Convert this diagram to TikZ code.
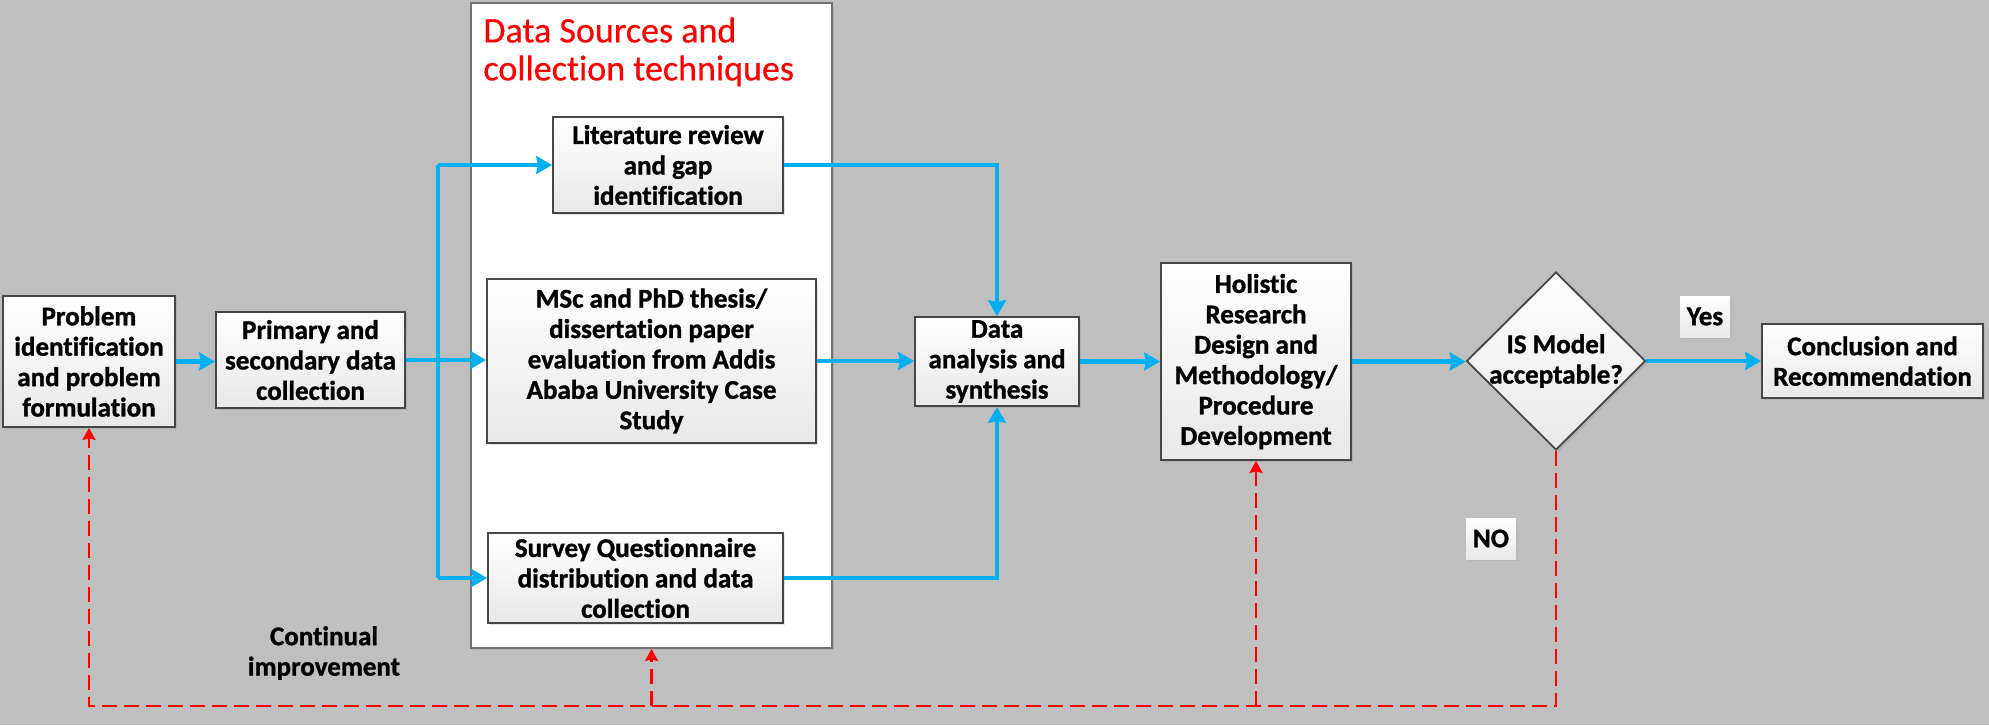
\documentclass[tikz,border=0pt]{standalone}
\usepackage{fontspec}
\setmainfont{Carlito}[Ligatures={NoCommon},BoldFeatures={FakeBold=1.2}]
\newfontfamily\titlefont{Carlito}[Ligatures={NoCommon},FakeBold=0.5]
\usetikzlibrary{arrows.meta,shapes.geometric,shadows}
\definecolor{bg}{RGB}{191,191,191}
\definecolor{flowblue}{RGB}{0,176,240}
\definecolor{boxedge}{RGB}{70,70,70}
\definecolor{boxbot}{RGB}{232,232,232}
\definecolor{contedge}{RGB}{115,115,115}
\begin{document}
\begin{tikzpicture}[x=0.5pt,y=-0.5pt,
  flowbox/.style={draw=boxedge, line width=0.9pt, top color=white, bottom color=boxbot,
    align=center, inner sep=0pt, font=\bfseries\fontsize{13.5}{15.2}\selectfont,
    drop shadow={shadow xshift=1.2pt,shadow yshift=-1.2pt,opacity=0.22}},
  tagbox/.style={top color=white, bottom color=boxbot, inner sep=0pt,
    font=\bfseries\fontsize{13.5}{15.2}\selectfont,
    drop shadow={shadow xshift=1pt,shadow yshift=-1pt,opacity=0.15}},
  plaintext/.style={align=center, inner sep=0pt, font=\bfseries\fontsize{13.5}{15.2}\selectfont},
  bluearrow/.style={draw=flowblue, line width=2.2pt, -{Stealth[length=8pt,width=9pt,inset=1pt]}},
  redline/.style={draw=red, line width=1.2pt, dash pattern=on 7.5pt off 3.5pt},
  redarrow/.style={redline, -{Stealth[length=6pt,width=6.5pt,inset=0.8pt]}}
]
\fill[bg] (0,0) rectangle (1989,725);
\useasboundingbox (0,0) rectangle (1989,725);

% container
\node[draw=contedge, line width=1pt, fill=white, minimum width=180.5pt, minimum height=322.5pt,
  drop shadow={shadow xshift=1.2pt,shadow yshift=-1.2pt,opacity=0.25}] (src) at (651.5,325.5) {};
\node[anchor=north west, inner sep=0pt, align=left, text=red, font=\titlefont\fontsize{18}{19}\selectfont]
  (ttl) at (483,17) {Data Sources and\\collection techniques};

% boxes
\node[flowbox, minimum width=86pt, minimum height=65.5pt] (prob) at (89,361.5)
  {Problem\\identification\\and problem\\formulation};
\node[flowbox, minimum width=94.5pt, minimum height=48pt] (prim) at (310.5,360)
  {Primary and\\secondary data\\collection};
\node[flowbox, minimum width=115pt, minimum height=48pt] (lit) at (668,165)
  {Literature review\\and gap\\identification};
\node[flowbox, minimum width=164.5pt, minimum height=82pt] (msc) at (651.5,361)
  {MSc and PhD thesis/\\dissertation paper\\evaluation from Addis\\Ababa University Case\\Study};
\node[flowbox, minimum width=147.5pt, minimum height=45pt] (surv) at (635.5,578)
  {Survey Questionnaire\\distribution and data\\collection};
\node[flowbox, minimum width=82pt, minimum height=44.5pt] (data) at (997,361.5)
  {Data\\analysis and\\synthesis};
\node[flowbox, minimum width=95pt, minimum height=98.5pt] (hol) at (1256,361.5)
  {Holistic\\Research\\Design and\\Methodology/\\Procedure\\Development};
\node[diamond, draw=boxedge, line width=0.9pt, top color=white, bottom color=boxbot,
  minimum width=89.5pt, minimum height=89pt, inner sep=0pt,
  drop shadow={shadow xshift=1.2pt,shadow yshift=-1.2pt,opacity=0.22}] (dia) at (1556,361) {};
\node[plaintext] (diatext) at (dia.center) {IS Model\\acceptable?};
\node[flowbox, minimum width=110.5pt, minimum height=37pt] (conc) at (1872.5,361)
  {Conclusion and\\Recommendation};

\node[tagbox, minimum width=25pt, minimum height=20.5pt] (yes) at (1705,316.5) {Yes};
\node[tagbox, minimum width=25pt, minimum height=20.5pt] (no) at (1491,538.5) {NO};
\node[plaintext] (cont) at (324,653) {Continual\\improvement};

% blue flow
\coordinate (j) at (438,360);
\draw[bluearrow] (prob.east) -- (prob.east -| prim.west);
\draw[bluearrow] (prim.east) -- (prim.east -| msc.west);
\draw[bluearrow] (j |- lit.west) -- (lit.west);
\draw[bluearrow] (j |- surv.west) -- (surv.west);
\draw[draw=flowblue, line width=2.2pt] (j |- lit.west) -- (j |- surv.west);
\draw[bluearrow] (lit.east) -| (data.north);
\draw[bluearrow] (surv.east) -| (data.south);
\draw[bluearrow] (msc.east) -- (msc.east -| data.west);
\draw[bluearrow] (data.east) -- (data.east -| hol.west);
\draw[bluearrow] (hol.east) -- (hol.east -| dia.west);
\draw[bluearrow] (dia.east) -- (dia.east -| conc.west);

% red feedback
\coordinate (base) at (0,706);
\draw[redarrow] (dia.south) |- (prob.south |- base) -- (prob.south);
\draw[redarrow] (src.south |- base) -- (src.south);
\draw[redarrow] (hol.south |- base) -- (hol.south);
\end{tikzpicture}
\end{document}
